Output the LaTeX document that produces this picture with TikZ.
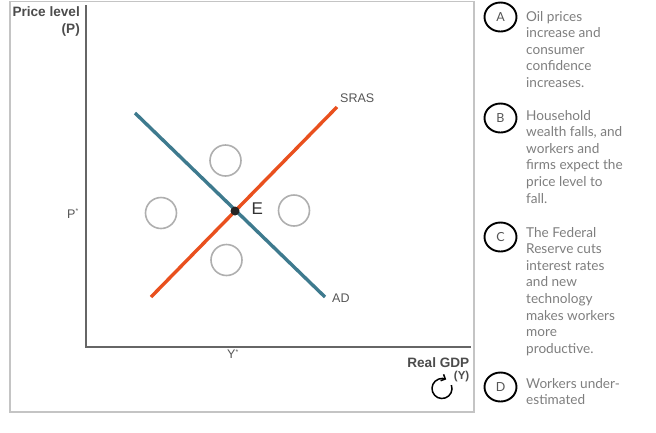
\documentclass[tikz,border=0pt]{standalone}
\usepackage{fontspec}
\setmainfont{Liberation Sans}
\newfontfamily\lato{Lato}
\newfontfamily\arial{Liberation Sans}
\usetikzlibrary{arrows.meta,calc,shapes.geometric}
\definecolor{adcol}{HTML}{3E7A8E}
\definecolor{sracol}{HTML}{E9501E}
\definecolor{framecol}{HTML}{C4C4C4}
\definecolor{axiscol}{HTML}{666666}
\definecolor{labcol}{HTML}{555555}
\definecolor{opttext}{HTML}{7E7E7E}
\definecolor{ringcol}{HTML}{AFAFAF}
\tikzset{
  axislab/.style={font=\arial\bfseries\fontsize{13.6}{14}\selectfont, text=labcol!90!black, inner sep=0pt},
  curvelab/.style={font=\arial\fontsize{12.5}{14}\selectfont, text=labcol, inner sep=0pt},
  ring/.style={circle, draw=ringcol, line width=1.6pt, minimum size=31pt, inner sep=0pt},
  letterring/.style={ellipse, draw=black, line width=1.9pt, minimum width=32pt, minimum height=29pt, inner sep=0pt, font=\lato\fontsize{12.5}{14}\selectfont, text=labcol},
  opt/.style={anchor=base west, inner sep=0pt, text=opttext, font=\lato\fontsize{13.6}{16.6}\selectfont},
  curve/.style={line width=3.4pt},
}
\newcommand{\optlines}[1]{\begin{tabular}[t]{@{}l@{}}#1\end{tabular}}
\begin{document}
\begin{tikzpicture}[x=1pt,y=-1pt]
\useasboundingbox (0,0) rectangle (656,432);
% frame
\draw[framecol, line width=1.5pt] (10,1.5) rectangle (474,412);
% axes
\coordinate (ytop) at (86,5);
\coordinate (orig) at (86,347);
\coordinate (xend) at (471,347);
\draw[axiscol, line width=1.5pt] (ytop) -- (orig) -- (xend);
% axis labels
\node[axislab, anchor=base east] (pl) at (80,16.5) {Price level};
\node[axislab, anchor=base east] (pp) at (80,33) {(P)};
\node[axislab, anchor=base east] (rg) at (469.5,367) {Real GDP};
\node[axislab, anchor=base east, font=\arial\bfseries\fontsize{11.5}{13}\selectfont] (yy) at (469.5,379) {(Y)};
% P* and Y*
\node[curvelab, anchor=base east] (pstar) at (79,218) {P\textsuperscript{\fontsize{7}{8}\selectfont *}};
\node[curvelab, anchor=base] (ystar) at (233,358.5) {Y\textsuperscript{\fontsize{7}{8}\selectfont *}};
% curves
\coordinate (ad1) at (135,113);
\coordinate (ad2) at (325,297);
\coordinate (sr1) at (151,297);
\coordinate (sr2) at (337,107);
\draw[curve, adcol] (ad1) -- (ad2);
\draw[curve, sracol] (sr1) -- (sr2);
\node[curvelab, anchor=base west] (sraslab) at (340,102) {SRAS};
\node[curvelab, anchor=base west] (adlab) at (332,302.5) {AD};
% equilibrium
\node[circle, fill=black!85, minimum size=9pt, inner sep=0pt] (E) at (235,211) {};
\node[font=\arial\fontsize{17}{18}\selectfont, text=black!80, inner sep=0pt, anchor=base west] (Elab) at (251.5,214.5) {E};
% answer rings
\node[ring] (rtop) at (225.5,160.5) {};
\node[ring] (rleft) at (161,213) {};
\node[ring] (rright) at (294,210.5) {};
\node[ring] (rbot) at (226.5,260) {};
% rotate icon
\coordinate (rc) at (442,388.5);
\draw[black, line width=1.5pt, -{Straight Barb[length=3.5pt,width=7pt]}] ($(rc)+(-20:10)$) arc[start angle=20, end angle=-295, radius=10pt];
% options
\node[letterring] (A) at (500.5,17) {A};
\node[letterring] (B) at (500.5,118) {B};
\node[letterring] (C) at (500.5,237) {C};
\node[letterring] (D) at (500.5,387) {D};
\node[opt] (tA) at (526,21) {\optlines{Oil prices\\increase and\\consumer\\confidence\\increases.}};
\node[opt] (tB) at (526,120) {\optlines{Household\\wealth falls, and\\workers and\\firms expect the\\price level to\\fall.}};
\node[opt] (tC) at (526,237) {\optlines{The Federal\\Reserve cuts\\interest rates\\and new\\technology\\makes workers\\more\\productive.}};
\node[opt] (tD) at (526,388) {\optlines{Workers under-\\estimated}};
\end{tikzpicture}
\end{document}
